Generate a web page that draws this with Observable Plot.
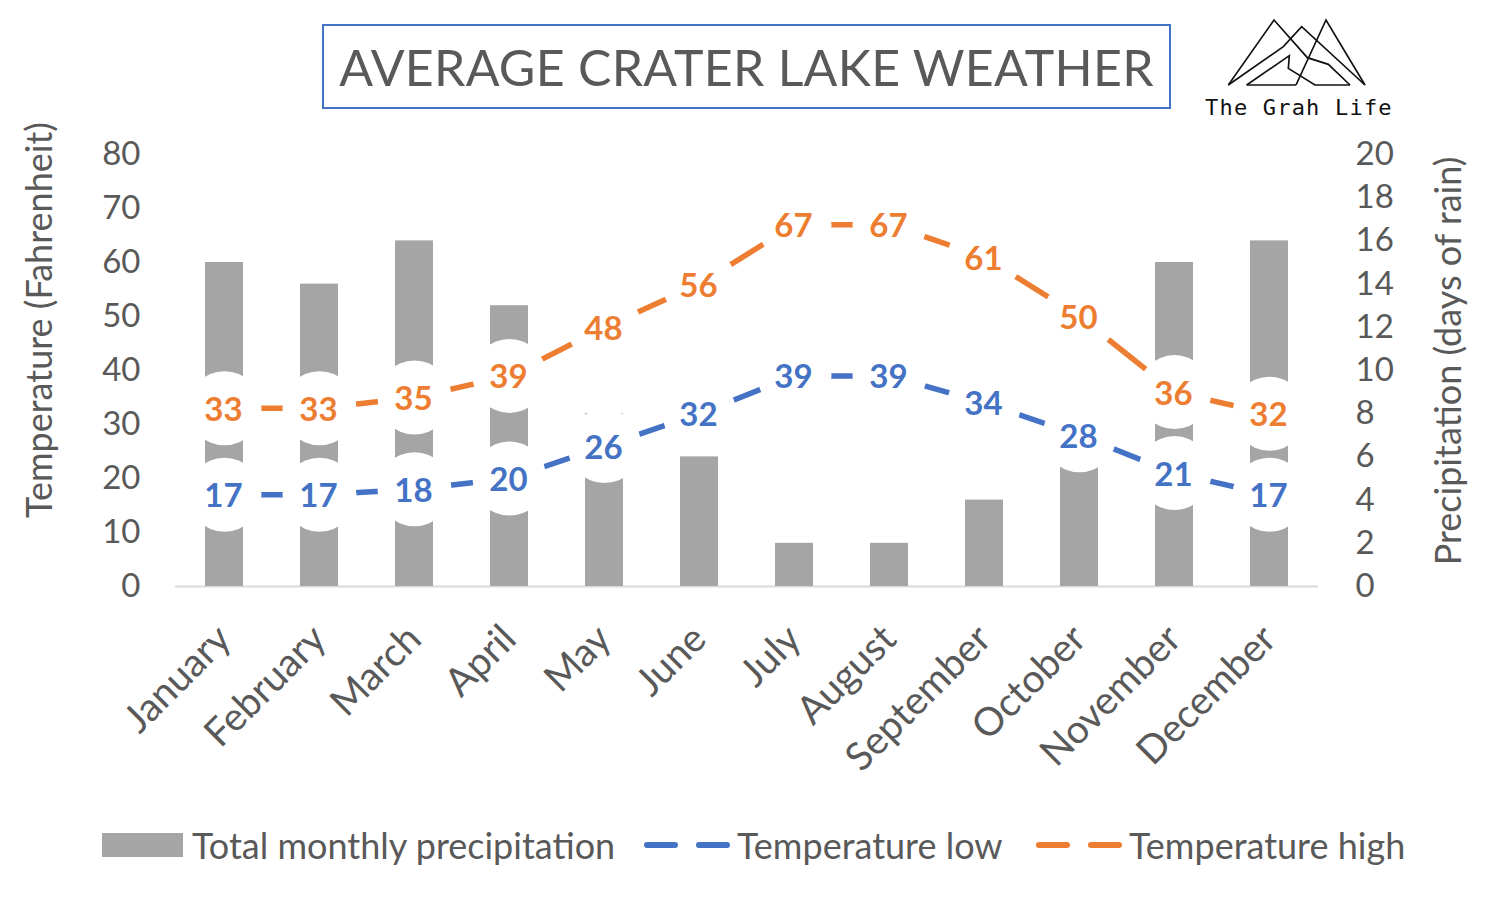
<!DOCTYPE html>
<html>
<head>
<meta charset="utf-8">
<script src="https://cdn.jsdelivr.net/npm/d3@7"></script>
<script src="https://cdn.jsdelivr.net/npm/@observablehq/plot@0.6"></script>
<style>
  body { margin: 0; background: white; font-family: Lato, "Open Sans", sans-serif; color: #595959; }
  #wrap { position: relative; width: 1500px; height: 901px; overflow: hidden; }
  #chart { position: absolute; left: 0; top: 0; }
  .title {
    position: absolute; left: 322px; top: 24px; width: 845px; height: 81px;
    border: 2px solid #4472c4; display: flex; align-items: center; justify-content: center;
    font-size: 50px; color: #595959; white-space: nowrap; letter-spacing: 0.3px;
  }
  .axis-title {
    position: absolute; font-size: 36px; color: #595959; white-space: nowrap;
    transform: translate(-50%, -50%) rotate(-90deg);
  }
  .brand { position: absolute; left: 1205px; top: 95px; font-family: "DejaVu Sans Mono", monospace;
    font-size: 22px; letter-spacing: 1.2px; color: #111; font-weight: 300; }
  .legend { position: absolute; top: 826px; left: 0; height: 38px; font-size: 36px; color: #595959; }
  .legend .item { position: absolute; top: 0; display: flex; align-items: center; height: 38px; white-space: nowrap; }
  .legend svg { display: block; }
</style>
</head>
<body>
<div id="wrap">
  <div id="chart"></div>
  <div class="title">AVERAGE CRATER LAKE WEATHER</div>
  <svg style="position:absolute;left:1220px;top:15px" width="150" height="75" viewBox="0 0 450 225">
    <g fill="none" stroke="#111" stroke-width="5" stroke-linejoin="miter">
      <polyline points="25,210 162,15 262,128 325,148 390,210"/>
      <polyline points="25,210 190,95 245,35 435,210"/>
      <polyline points="228,210 318,15 435,210"/>
      <polyline points="80,210 208,122 205,160 285,210 390,210"/>
      <polyline points="80,210 228,210"/>
    </g>
  </svg>
  <div class="brand">The Grah Life</div>
  <div class="axis-title" style="left:38px;top:320px">Temperature (Fahrenheit)</div>
  <div class="axis-title" style="left:1447px;top:361px">Precipitation (days of rain)</div>
  <div class="legend">
    <div class="item" style="left:102px">
      <svg width="81" height="24"><rect width="81" height="24" fill="#a5a5a5"/></svg>
      <span style="margin-left:9px">Total monthly precipitation</span>
    </div>
    <div class="item" style="left:643px">
      <svg width="92" height="12"><line x1="4" y1="6" x2="88" y2="6" stroke="#4472c4" stroke-width="6" stroke-linecap="round" stroke-dasharray="28,24"/></svg>
      <span style="margin-left:2px">Temperature low</span>
    </div>
    <div class="item" style="left:1035px">
      <svg width="92" height="12"><line x1="4" y1="6" x2="88" y2="6" stroke="#ed7d31" stroke-width="6" stroke-linecap="round" stroke-dasharray="28,24"/></svg>
      <span style="margin-left:2px">Temperature high</span>
    </div>
  </div>
</div>
<script>
// Monthly climate normals for Crater Lake
const months = ["January", "February", "March", "April", "May", "June",
                "July", "August", "September", "October", "November", "December"];
const tempLow = [17, 17, 18, 20, 26, 32, 39, 39, 34, 28, 21, 17];   // °F
const tempHigh = [33, 33, 35, 39, 48, 56, 67, 67, 61, 50, 36, 32];  // °F
const rainDays = [15, 14, 16, 13, 8, 6, 2, 2, 4, 6, 15, 16];        // days of rain

const leftTicks = [0, 10, 20, 30, 40, 50, 60, 70, 80];
const rightTicks = [0, 2, 4, 6, 8, 10, 12, 14, 16, 18, 20];

// precipitation axis (0–20 days) shares the plot with temperature (0–80 °F)
const ratio = 80 / 20;

const rows = months.map((month, i) => ({month, low: tempLow[i], high: tempHigh[i], rain: rainDays[i]}));
const points = [
  ...rows.map(d => ({month: d.month, value: d.high, series: "high"})),
  ...rows.map(d => ({month: d.month, value: d.low, series: "low"}))
];
const colors = {low: "#4472c4", high: "#ed7d31"};
// between the white label discs each month-to-month link reads as one dash
const lineStyle = {strokeWidth: 5.5, strokeLinecap: "butt"};

const chart = Plot.plot({
  width: 1500,
  height: 901,
  marginTop: 154,
  marginBottom: 315,
  marginLeft: 175,
  marginRight: 182,
  style: {fontFamily: "Lato, 'Open Sans', sans-serif", background: "transparent", color: "#595959"},
  x: {type: "band", domain: months, paddingInner: 0.6, paddingOuter: 0.3, label: null},
  y: {domain: [0, 80], label: null},
  marks: [
    Plot.ruleY([0], {stroke: "#d9d9d9", strokeWidth: 2}),
    Plot.barY(rows, {x: "month", y: d => d.rain * ratio, fill: "#a5a5a5"}),
    Plot.line(rows, {x: "month", y: "low", stroke: colors.low, ...lineStyle}),
    Plot.line(rows, {x: "month", y: "high", stroke: colors.high, ...lineStyle}),
    Plot.dot(points, {x: "month", y: "value", r: 37, fill: "white", stroke: null}),
    Plot.text(points, {x: "month", y: "value", text: d => String(d.value),
      fill: d => colors[d.series], fontSize: 33, fontWeight: "bold", dx: -1, dy: 2}),
    Plot.axisY({ticks: leftTicks, tickSize: 0, tickPadding: 35, fontSize: 33, label: null, fill: "#595959"}),
    Plot.axisY({anchor: "right", ticks: rightTicks.map(v => v * ratio), tickFormat: v => v / ratio,
      tickSize: 0, tickPadding: 37, fontSize: 33, label: null, fill: "#595959"}),
    Plot.axisX({tickRotate: -45, tickSize: 0, tickPadding: 46, fontSize: 39, label: null, fill: "#595959"})
  ]
});
document.getElementById("chart").appendChild(chart);
</script>
</body>
</html>
